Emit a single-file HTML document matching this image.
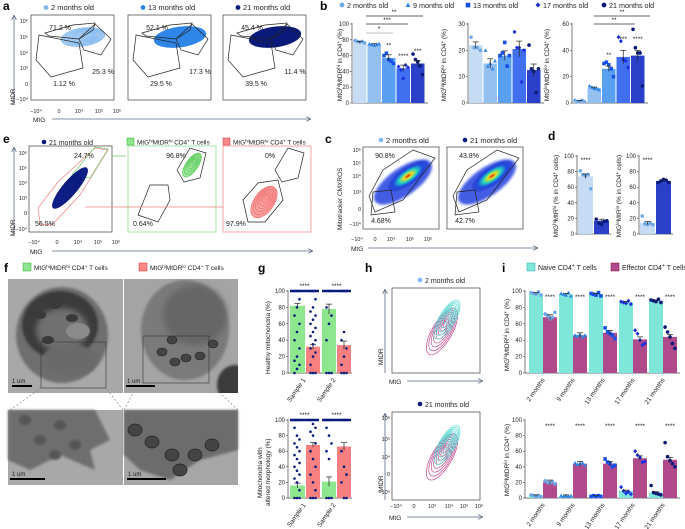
<!DOCTYPE html>
<html><head><meta charset="utf-8"><style>
html,body{margin:0;padding:0;background:#fff;}
svg{display:block;font-family:"Liberation Sans",sans-serif;}
</style></head><body>
<svg id="fig" width="685" height="529" viewBox="0 0 685 529" xmlns="http://www.w3.org/2000/svg">
<defs>
<filter id="blur1"><feGaussianBlur stdDeviation="1.2"/></filter>
<filter id="blur2"><feGaussianBlur stdDeviation="3"/></filter>
<clipPath id="clipTR"><rect x="124" y="279" width="114" height="114"/></clipPath>
<clipPath id="clipTL"><rect x="8" y="279" width="115" height="114"/></clipPath>
<radialGradient id="heat" cx="0.5" cy="0.5" r="0.5">
<stop offset="0" stop-color="#d01010"/><stop offset="0.2" stop-color="#f0e020"/><stop offset="0.45" stop-color="#20d0c0"/><stop offset="0.7" stop-color="#2050e0"/><stop offset="1" stop-color="#1020c0" stop-opacity="0.2"/></radialGradient>
<marker id="arr" markerWidth="6" markerHeight="6" refX="5" refY="3" orient="auto"><path d="M0,0 L6,3 L0,6" fill="none" stroke="#5a6a85" stroke-width="1"/></marker>
</defs>
<g id="root"></g>
</svg>
<script>
// ---------- data ----------
const bAges = ['2 months old','9 months old','13 months old','17 months old','21 months old'];
const bHiHi = [77, 74, 57, 44, 50];
const bHiLo = [22, 15, 18, 20.5, 12.5];
const bLoLo = [1.5, 11.5, 26, 35, 36];
const bHiHiDots = [[79,78,77,78,76],[75,74,73,74,75],[60,63,55,53,50],[46,42,31,48,45],[62,55,52,47,36]];
const bHiLoDots = [[25,21,21,20],[20,14,15,13,16],[18,19,23,14,18],[27,21,21,8,20],[22,13,12,4,13]];
const bLoLoDots = [[2,1,1,2,1],[13,12,11,11,10],[30,31,29,26,20],[50,47,33,32,27],[56,42,38,38,13]];
const dHiHi = [74, 17];
const dLoLo = [14, 68];
const dHiHiDots = [[81,76,75,76,58],[19,14,12,16,17]];
const dLoLoDots = [[23,13,12,14,12],[66,68,70,69,66]];
const gSamples = ['Sample 1','Sample 2'];
const gHealthyHi = [82, 78];
const gHealthyLo = [32, 34];
const gAlteredHi = [16, 21];
const gAlteredLo = [68, 66];
const iGroups = ['2 months','9 months','13 months','17 months','21 months'];
const iNaiveHiHi = [97, 96, 96, 86, 88];
const iEffHiHi = [68, 46, 49, 41, 44];
const iNaiveLoLo = [3, 3, 2, 9, 7];
const iEffLoLo = [20, 44, 44, 51, 49];
const iEffHiHiDots = [[72,70,66,68,74],[46,45,47,44,46],[55,50,48,46,42],[52,48,40,34,36],[56,50,44,36,30]];
const iEffLoLoDots = [[22,20,19,21,18],[45,43,44,45,42],[50,46,44,40,42],[60,55,52,46,47],[71,53,48,44,40]];
const iNaiveLoLoDots = [[4,3,2,3,2],[3,2,3,2,3],[2,3,2,3,2],[14,9,6,8,5],[16,7,6,5,4]];

const NS='http://www.w3.org/2000/svg';
const root=document.getElementById('root');
function el(tag,attrs,parent,text){const e=document.createElementNS(NS,tag);for(const k in attrs)e.setAttribute(k,attrs[k]);if(text!==undefined)e.textContent=text;(parent||root).appendChild(e);return e;}
function txt(x,y,s,size,parent,opt){opt=opt||{};const t=el('text',{x:x,y:y,'font-size':size,fill:opt.fill||'#222','text-anchor':opt.anchor||'start'},parent,s);if(opt.rot)t.setAttribute('transform','rotate('+opt.rot+' '+x+' '+y+')');if(opt.weight)t.setAttribute('font-weight',opt.weight);return t;}
function ylabelRich(x,y,parts,size,parent){const t=el('text',{x:x,y:y,'font-size':size,fill:'#222','text-anchor':'middle',transform:'rotate(-90 '+x+' '+y+')'},parent);parts.forEach(p=>{const ts=el('tspan',{},t,p[0]);if(p[1]){ts.setAttribute('font-size',size*0.7);ts.setAttribute('baseline-shift','super');}});return t;}

const panelLabels=[['a',3,10],['b',320,10],['e',3,143],['c',325,143],['d',548,140],['f',4,272],['g',258,272],['h',365,272],['i',502,272]];
panelLabels.forEach(p=>{const t=txt(p[1],p[2],p[0],12,root,{weight:'bold',fill:'#000'});});

// ---------- bar chart helper ----------
function barChart(o){
  const g=el('g',{},root);
  
  
  const sy=v=>o.y0-(v/o.max)*(o.y0-o.y1);
  el('line',{x1:o.ax,y1:o.y1-1,x2:o.ax,y2:o.y0,stroke:'#444','stroke-width':0.7},g);
  el('line',{x1:o.ax,y1:o.y0,x2:o.xEnd,y2:o.y0,stroke:'#444','stroke-width':0.7},g);
  o.ticks.forEach(t=>{const y=sy(t);el('line',{x1:o.ax-2,y1:y,x2:o.ax,y2:y,stroke:'#444','stroke-width':0.6},g);txt(o.ax-3,y+2,String(t),6,g,{anchor:'end'});});
  o.bars.forEach((b,i)=>{
    const r=el('rect',{x:b.x,y:sy(b.v),width:b.w,height:o.y0-sy(b.v),fill:b.c},g);
    
    
    const cx=b.x+b.w/2;
    if(b.dots){b.dots.forEach((d,j)=>{const dx=(j-(b.dots.length-1)/2)*(b.w*0.7/Math.max(1,b.dots.length-1));
      if(b.shape==='sq')el('rect',{x:cx+dx-1.8,y:sy(d)-1.8,width:3.6,height:3.6,fill:b.dc},g);
      else if(b.shape==='tri')el('path',{d:'M'+(cx+dx)+','+(sy(d)-2)+' l2,3.6 l-4,0z',fill:b.dc},g);
      else if(b.shape==='dia')el('path',{d:'M'+(cx+dx)+','+(sy(d)-2.2)+' l2,2.2 l-2,2.2 l-2,-2.2z',fill:b.dc},g);
      else el('circle',{cx:cx+dx,cy:sy(d),r:b.r||1.8,fill:b.dc},g);});}
    if(b.err!==undefined){el('line',{x1:cx,y1:sy(b.v-b.err),x2:cx,y2:sy(b.v+b.err),stroke:b.ec||'#222','stroke-width':0.7},g);el('line',{x1:cx-3,y1:sy(b.v+b.err),x2:cx+3,y2:sy(b.v+b.err),stroke:b.ec||'#222','stroke-width':0.7},g);}
    if(b.star)txt(cx,b.starY!==undefined?b.starY:sy(b.v+b.err+4)-4,b.star,6.5,g,{anchor:'middle'});
  });
  return {g:g,sy:sy};
}

// ---------- panel b ----------
const bBar=['#c6dcf4','#94c0f0','#5aa0f2','#4070f0','#2a40c8'];
const bDot=['#6fa8e8','#2f86e8','#1650e8','#1a2ee0','#0a1a7a'];
const bShape=['c','tri','sq','dia','c'];
(function(){const g=el('g',{},root);
 const xs=[342,408,468,538,604];bAges.forEach((a,i)=>{const x=xs[i];
  if(bShape[i]==='tri')el('path',{d:'M'+x+',2.5 l2.5,4.5 l-5,0z',fill:bDot[i]},g);
  else if(bShape[i]==='sq')el('rect',{x:x-2.3,y:2.8,width:4.6,height:4.6,fill:bDot[i]},g);
  else if(bShape[i]==='dia')el('path',{d:'M'+x+',2.5 l2.5,2.5 l-2.5,2.5 l-2.5,-2.5z',fill:bDot[i]},g);
  else el('circle',{cx:x,cy:5,r:2.4,fill:bDot[i]},g);
  txt(x+5,8,a,7.2,g);});})();
function bChart(name,ax,max,ticks,vals,dots,errs,stars){
  const bars=vals.map((v,i)=>({x:ax+1+i*14.5,w:13.5,v:v,c:bBar[i],dots:dots[i],dc:bDot[i],shape:bShape[i],err:errs[i],star:stars[i]}));
  return barChart({name:name,ax:ax,xEnd:ax+76,y0:103,y1:24,max:max,ticks:ticks,bars:bars});
}
bChart('b-chart-hihi',352,100,[0,20,40,60,80,100],bHiHi,bHiHiDots,[1,1,4,4,4],['','','**','****','***']);
bChart('b-chart-hilo',468,30,[0,10,20,30],bHiLo,bHiLoDots,[1.2,1.8,1.8,3,2.3],['','','','','']);
bChart('b-chart-lolo',572,60,[0,20,40,60],bLoLo,bLoLoDots,[0.4,0.6,2,5,4],['','','**','***','****']);
el('line',{x1:366,y1:33,x2:393,y2:33,stroke:'#aaa','stroke-width':0.8});txt(379,31,'*',7,root,{anchor:'middle'});
el('line',{x1:366,y1:24,x2:408,y2:24,stroke:'#333','stroke-width':0.7});txt(387,22,'***',6.5,root,{anchor:'middle'});
el('line',{x1:366,y1:16,x2:423,y2:16,stroke:'#333','stroke-width':0.7});txt(394,14,'**',6.5,root,{anchor:'middle'});
el('line',{x1:594,y1:24,x2:635,y2:24,stroke:'#333','stroke-width':0.7});txt(614,22,'**',6.5,root,{anchor:'middle'});
el('line',{x1:594,y1:16,x2:650,y2:16,stroke:'#333','stroke-width':0.7});txt(622,14,'**',6.5,root,{anchor:'middle'});
ylabelRich(342,65,[['MtG'],['hi',1],['MtDR'],['hi',1],[' in CD4'],['+',1],[' (%)']],6.5);
ylabelRich(446,65,[['MtG'],['hi',1],['MtDR'],['lo',1],[' in CD4'],['+',1],[' (%)']],6.5);
ylabelRich(549,65,[['MtG'],['lo',1],['MtDR'],['lo',1],[' in CD4'],['+',1],[' (%)']],6.5);

// ---------- flow plot helper ----------
function contour(g,cx,cy,rx,ry,rot,color,n,fill){
  for(let k=n;k>=1;k--){const f=k/n;el('ellipse',{cx:cx+(1-f)*rx*0.35,cy:cy-(1-f)*ry*0.1,rx:rx*f,ry:ry*f,transform:'rotate('+rot+' '+cx+' '+cy+')',fill:fill&&k===n?fill:'none',stroke:color,'stroke-width':0.7},g);}
}
function flowBox(name,x,y,w,h,stroke){const g=el('g',{},root);el('rect',{x:x,y:y,width:w,height:h,fill:'#fff',stroke:stroke||'#555','stroke-width':0.8},g);return g;}
// panel a
[['2 months old','#7fb6ee',71.2,25.3,1.12,31,'#a9cff4'],['13 months old','#2f86e8',52.1,17.3,29.5,128,'#2f86e8'],['21 months old','#0a1a7a',45.4,11.4,39.5,223,'#0a1a7a']].forEach((p,i)=>{
  const x=p[5],g=flowBox('a-flow-plot-'+(i+1),x,15,83,85);
  const big=i>0;
  contour(g,x+52,37,big?26:22,big?10:9,-8,p[1],8,p[6]);
  el('polygon',{points:[[x+14,33],[x+42,25],[x+64,23],[x+62,30],[x+48,39],[x+18,36]].join(' '),fill:'none',stroke:'#222','stroke-width':0.7},g);
  el('polygon',{points:[[x+48,39],[x+64,24],[x+80,39],[x+70,55],[x+53,50]].join(' '),fill:'none',stroke:'#222','stroke-width':0.7},g);
  el('polygon',{points:[[x+8,35],[x+48,43],[x+52,68],[x+20,77],[x+5,60]].join(' '),fill:'none',stroke:'#222','stroke-width':0.7},g);
  txt(x+29,30,p[2]+' %',7,g,{anchor:'middle'});txt(x+72,74,p[3]+' %',7,g,{anchor:'middle'});txt(x+33,86,p[4]+' %',7,g,{anchor:'middle'});
  txt(x+20,10,p[0],7.5,root);el('circle',{cx:x+15,cy:7.5,r:2.4,fill:p[1]});
});
['10⁶','10⁵','10⁴','10³','0','−10⁴'].forEach((t,i)=>txt(28,[23,39,55,70,86,101][i],t,5.5,root,{anchor:'end'}));
['−10⁴','0','10⁴','10⁵','10⁶'].forEach((t,i)=>txt([36,59,79,99,117][i],113,t,5.5,root,{anchor:'middle'}));
el('line',{x1:14,y1:104,x2:14,y2:16,stroke:'#5a6a85','stroke-width':0.8,'marker-end':'url(#arr)'});
txt(15,105,'MtDR',6.5,root,{rot:-90,anchor:'start'});
el('line',{x1:52,y1:119,x2:310,y2:119,stroke:'#5a6a85','stroke-width':0.8,'marker-end':'url(#arr)'});
txt(33,122,'MtG',6.5,root);

// panel e
(function(){
 const g1=flowBox('e-flow-plot-21mo',29,146,83,86);
 el('polygon',{points:'38,208 58,182 95,148 108,150 80,195 52,225 40,224',fill:'none',stroke:'#f08080','stroke-width':0.7},g1);
 el('polygon',{points:'72,175 95,147 108,149 90,178',fill:'none',stroke:'#70d070','stroke-width':0.7},g1);
 contour(g1,70,188,26,7,-50,'#0a1a7a',7,'#10208a');
 txt(84,158,'24.7%',7,g1,{anchor:'middle'});txt(35,226,'56.5%',7,g1);
 const g2=flowBox('e-flow-plot-hihi',128,146,88,86,'#90e090');
 el('polygon',{points:'177,170 190,148 206,153 200,178 184,182',fill:'none',stroke:'#222','stroke-width':0.7},g2);
 contour(g2,192,165,14,6,-55,'#60cc60',6,'#9be59b');
 el('polygon',{points:'138,215 150,185 168,185 170,200 158,222',fill:'none',stroke:'#222','stroke-width':0.7},g2);
 txt(176,158,'96.8%',7,g2,{anchor:'middle'});txt(133,226,'0.64%',7,g2);
 const g3=flowBox('e-flow-plot-hilo',223,146,88,86,'#f09090');
 el('polygon',{points:'275,170 288,148 304,153 298,178 282,182',fill:'none',stroke:'#222','stroke-width':0.7},g3);
 el('polygon',{points:'243,200 258,183 278,180 283,200 265,222 248,222',fill:'none',stroke:'#222','stroke-width':0.7},g3);
 contour(g3,264,202,18,10,-55,'#f07070',7,'#f9a0a0');
 txt(270,158,'0%',7,g3,{anchor:'middle'});txt(226,226,'97.9%',7,g3);
 el('line',{x1:112,y1:156,x2:126,y2:156,stroke:'#70d070','stroke-width':0.8});
 el('line',{x1:85,y1:207,x2:223,y2:207,stroke:'#f08080','stroke-width':0.8});
 el('circle',{cx:44,cy:142,r:2.3,fill:'#0a1a7a'});txt(49,145,'21 months old',7,root);
 el('rect',{x:127,y:138,width:7,height:7,fill:'#8ee68e',stroke:'#3a3','stroke-width':0.5});
 const t1=txt(137,144.5,'',6.4,root);t1.innerHTML='MtG<tspan font-size="4.5" baseline-shift="super">hi</tspan>MtDR<tspan font-size="4.5" baseline-shift="super">hi</tspan> CD4<tspan font-size="4.5" baseline-shift="super">+</tspan> T cells';
 el('rect',{x:223,y:138,width:7,height:7,fill:'#f88',stroke:'#c33','stroke-width':0.5});
 const t2=txt(233,144.5,'',6.4,root);t2.innerHTML='MtG<tspan font-size="4.5" baseline-shift="super">hi</tspan>MtDR<tspan font-size="4.5" baseline-shift="super">lo</tspan> CD4<tspan font-size="4.5" baseline-shift="super">+</tspan> T cells';
 ['10⁶','10⁵','10⁴','10³','0','−10⁴'].forEach((t,i)=>txt(27,[155,170,185,200,215,231][i],t,5.5,root,{anchor:'end'}));
 ['−10⁴','0','10⁴','10⁵','10⁶'].forEach((t,i)=>txt([34,57,78,98,116][i],244,t,5.5,root,{anchor:'middle'}));
 el('line',{x1:14,y1:235,x2:14,y2:148,stroke:'#5a6a85','stroke-width':0.8,'marker-end':'url(#arr)'});
 txt(15,236,'MtDR',6.5,root,{rot:-90});
 el('line',{x1:52,y1:251,x2:312,y2:251,stroke:'#5a6a85','stroke-width':0.8,'marker-end':'url(#arr)'});
 txt(30,254,'MtG',6.5,root);
})();

// panel c
(function(){
 [['2 months old','#7fb6ee',363,'90.8%','4.68%'],['21 months old','#0a1a7a',447,'43.8%','42.7%']].forEach((p,i)=>{
  const x=p[2],g=flowBox('c-flow-plot-'+(i+1),x,147,76,82);
  el('ellipse',{cx:x+40,cy:182,rx:34,ry:14,transform:'rotate(-35 '+(x+40)+' 182)',fill:'#2040e0',opacity:0.85,filter:'url(#blur1)'},g);
  el('ellipse',{cx:x+45,cy:176,rx:24,ry:9,transform:'rotate(-35 '+(x+45)+' 176)',fill:'url(#heat)'},g);
  el('polygon',{points:[[x+6,196],[x+20,170],[x+50,150],[x+72,158],[x+40,200],[x+12,212]].join(' '),fill:'none',stroke:'#222','stroke-width':0.7},g);
  el('polygon',{points:[[x+8,215],[x+10,192],[x+28,190],[x+32,212]].join(' '),fill:'none',stroke:'#222','stroke-width':0.7},g);
  txt(x+22,158,p[3],7,g,{anchor:'middle'});txt(x+18,223,p[4],7,g,{anchor:'middle'});
  el('circle',{cx:x+18,cy:140,r:2.3,fill:p[1]});txt(x+23,143,p[0],7.5,root);
 });
 ['10⁶','10⁵','10⁴','10³','0','−10⁴'].forEach((t,i)=>txt(361,[152,165,178,194,211,226][i],t,5.5,root,{anchor:'end'}));
 ['−10⁴','0','10⁴','10⁵','10⁶'].forEach((t,i)=>txt([357,375,391,410,428][i],241,t,5.5,root,{anchor:'middle'}));
 el('line',{x1:368,y1:248,x2:537,y2:248,stroke:'#5a6a85','stroke-width':0.8,'marker-end':'url(#arr)'});
 txt(351,251,'MtG',6.5,root);
 txt(342,230,'Mitotracker CMXROS',6.5,root,{rot:-90});
})();

// panel d
barChart({name:'d-chart-hihi',ax:577,xEnd:611,y0:234,y1:156,max:100,ticks:[0,20,40,60,80,100],bars:[
 {x:578,w:15,v:dHiHi[0],c:'#c6dcf4',dots:dHiHiDots[0],dc:'#6fa8e8',err:3,star:'****',starY:162},
 {x:594,w:15,v:dHiHi[1],c:'#2a40c8',dots:dHiHiDots[1],dc:'#0a1a7a',err:2}]});
barChart({name:'d-chart-lolo',ax:639,xEnd:673,y0:234,y1:156,max:100,ticks:[0,20,40,60,80,100],bars:[
 {x:640,w:15,v:dLoLo[0],c:'#c6dcf4',dots:dLoLoDots[0],dc:'#6fa8e8',err:2,star:'****',starY:162},
 {x:656,w:15,v:dLoLo[1],c:'#2a40c8',dots:dLoLoDots[1],dc:'#0a1a7a',err:1}]});
ylabelRich(558,196,[['MtG'],['hi',1],['MtR'],['hi',1],[' (% in CD4'],['+',1],[' cells)']],6.5);
ylabelRich(621,196,[['MtG'],['lo',1],['MtR'],['lo',1],[' (% in CD4'],['+',1],[' cells)']],6.5);

// panel f: EM images
(function(){
 const g=el('g',{},root);
 el('rect',{x:23,y:263,width:8,height:8,fill:'#8ee68e',stroke:'#3a3','stroke-width':0.5},g);
 const t1=txt(34,270,'',6.5,g);t1.innerHTML='MtG<tspan font-size="4.5" baseline-shift="super">hi</tspan>MtDR<tspan font-size="4.5" baseline-shift="super">hi</tspan> CD4<tspan font-size="4.5" baseline-shift="super">+</tspan> T cells';
 el('rect',{x:139,y:263,width:8,height:8,fill:'#f88',stroke:'#c33','stroke-width':0.5},g);
 const t2=txt(150,270,'',6.5,g);t2.innerHTML='MtG<tspan font-size="4.5" baseline-shift="super">hi</tspan>MtDR<tspan font-size="4.5" baseline-shift="super">lo</tspan> CD4<tspan font-size="4.5" baseline-shift="super">+</tspan> T cells';
 const tl=el('g',{'clip-path':'url(#clipTL)'},g);
 el('rect',{x:8,y:279,width:115,height:114,fill:'#a8a8a8'},tl);
 el('ellipse',{cx:62,cy:335,rx:46,ry:48,fill:'#6e6e6e',filter:'url(#blur1)'},tl);
 el('ellipse',{cx:60,cy:325,rx:38,ry:34,fill:'#3a3a3a',filter:'url(#blur1)'},tl);
 el('ellipse',{cx:62,cy:330,rx:26,ry:22,fill:'#707070',filter:'url(#blur2)'},tl);
 [[40,315],[55,305],[72,318],[48,340]].forEach(c=>el('ellipse',{cx:c[0],cy:c[1],rx:6,ry:4,fill:'#3a3a3a'},tl));
 el('ellipse',{cx:78,cy:331,rx:12,ry:8,fill:'#8a8a8a'},tl);
 el('ellipse',{cx:70,cy:360,rx:28,ry:16,fill:'#6a6a6a',filter:'url(#blur1)'},tl);
 el('rect',{x:41,y:342,width:65,height:46,fill:'none',stroke:'#333','stroke-width':0.6},tl);
 el('rect',{x:12,y:385,width:20,height:2,fill:'#000'},g);txt(12,383,'1 um',6,g);
 const tr=el('g',{'clip-path':'url(#clipTR)'},g);
 el('rect',{x:124,y:279,width:114,height:114,fill:'#a4a4a4'},tr);
 el('ellipse',{cx:185,cy:330,rx:44,ry:50,fill:'#7a7a7a',filter:'url(#blur1)'},tr);
 el('ellipse',{cx:195,cy:315,rx:32,ry:30,fill:'#666',filter:'url(#blur2)'},tr);
 el('ellipse',{cx:235,cy:385,rx:18,ry:20,fill:'#3a3a3a',filter:'url(#blur1)'},tr);
 [[162,352],[175,362],[186,358],[172,340],[200,356],[213,344]].forEach(c=>el('ellipse',{cx:c[0],cy:c[1],rx:5,ry:4,fill:'#444',stroke:'#222','stroke-width':0.6},tr));
 el('rect',{x:143,y:336,width:66,height:47,fill:'none',stroke:'#333','stroke-width':0.6},tr);
 el('rect',{x:126,y:385,width:29,height:2,fill:'#000'},g);txt(127,383,'1 um',6,g);
 el('rect',{x:8,y:410,width:115,height:75,fill:'#a8a8a8'},g);
 el('path',{d:'M8,410 L95,410 L110,440 L90,450 L95,470 L60,455 L30,470 L8,460Z',fill:'#6e6e6e',filter:'url(#blur1)'},g);
 [[25,420],[60,425],[40,440],[75,445],[55,455]].forEach(c=>el('ellipse',{cx:c[0],cy:c[1],rx:6,ry:5,fill:'#555',filter:'url(#blur1)'},g));
 el('rect',{x:10,y:478,width:35,height:2,fill:'#000'},g);txt(12,476,'1 um',6,g);
 el('rect',{x:124,y:410,width:114,height:75,fill:'#a6a6a6'},g);
 el('path',{d:'M124,410 L238,410 L238,450 L200,460 L170,480 L140,470 L124,455Z',fill:'#6c6c6c',filter:'url(#blur1)'},g);
 [[135,430],[152,442],[172,455],[195,455],[212,445],[180,470]].forEach(c=>el('ellipse',{cx:c[0],cy:c[1],rx:7,ry:6,fill:'#444',stroke:'#222','stroke-width':0.7},g));
 el('rect',{x:127,y:478,width:39,height:2,fill:'#000'},g);txt(128,476,'1 um',6,g);
 [[10,410,41,388],[123,410,106,388],[124,410,133,393],[238,410,220,393]].forEach(l=>el('line',{x1:l[0],y1:l[1],x2:l[2],y2:l[3],stroke:'#777','stroke-width':0.6,'stroke-dasharray':'2,2'},g));
})();

// panel g
function gChart(name,y0,y1,hi,lo,ylab){
 const denseHi=[[0,5,10,15,20,30,40,50,60,70,80,90,100,100,100],[0,0,0,40,60,70,80,100,100]];
 const denseLo=[[0,0,0,10,20,25,30,35,40,45,50,55,60,65,70,75,80,90,100,100,100],[0,0,0,10,20,30,40,50,100,100,100]];
 const c=barChart({name:name,ax:288,xEnd:352,y0:y0,y1:y1,max:100,ticks:[0,20,40,60,80,100],bars:[
  {x:290,w:15,v:hi[0],c:'#8ee68e',err:3},{x:306,w:14,v:lo[0],c:'#f88080',err:3},
  {x:322,w:14,v:hi[1],c:'#8ee68e',err:6},{x:337,w:14,v:lo[1],c:'#f88080',err:5}]});
 const xs=[297,313,329,344];
 const sets=ylab==='h'?[denseHi[0],denseLo[0],denseHi[1],denseLo[1]]:[denseLo[0].map(v=>100-v),denseHi[0].map(v=>100-v),denseLo[1].map(v=>100-v),denseHi[1].map(v=>100-v)];
 sets.forEach((s,i)=>s.forEach((v,j)=>el('circle',{cx:xs[i]+((j%3)-1)*2.5,cy:c.sy(v),r:1.3,fill:'#0a1a7a'},c.g)));
 [[290,319],[322,351]].forEach(r=>{el('line',{x1:r[0],y1:c.sy(100),x2:r[1],y2:c.sy(100),stroke:'#0a1a7a','stroke-width':2.5},c.g);txt((r[0]+r[1])/2,y1-3,'****',6.5,c.g,{anchor:'middle'});});
 gSamples.forEach((s,i)=>txt(306+i*30,y0+7,s,6.5,c.g,{rot:-55,anchor:'end'}));
}
gChart('g-chart-healthy',373,291,gHealthyHi,gHealthyLo,'h');
gChart('g-chart-altered',498,420,gAlteredHi,gAlteredLo,'a');
txt(270,374,'Healthy mitochondria (%)',6.5,root,{rot:-90});
txt(262,498,'Mitochondria with',6.5,root,{rot:-90});txt(270,506,'altered morphology (%)',6.5,root,{rot:-90});

// panel h
(function(){
 [['2 months old','#7fb6ee',288,373],['21 months old','#0a1a7a',412,500]].forEach((p,i)=>{
  const g=flowBox('h-flow-plot-'+(i+1),392,p[2],88,p[3]-p[2]);
  const cy=p[2]+(p[3]-p[2])*0.42;
  contour(g,442,cy+8,26,10,-60,'#c04a90',8,null);
  contour(g,447,cy-4,22,8,-60,'#50d8d0',7,null);
  el('circle',{cx:420,cy:p[2]-8,r:2.3,fill:p[1]});txt(425,p[2]-5,p[0],7,root);
  el('line',{x1:385,y1:p[3],x2:385,y2:p[2]+2,stroke:'#5a6a85','stroke-width':0.8,'marker-end':'url(#arr)'});
  txt(383,p[3]-8,'MtDR',6.5,root,{rot:-90});
  const ay=p[3]+(i?17:8);
  el('line',{x1:407,y1:ay,x2:482,y2:ay,stroke:'#5a6a85','stroke-width':0.8,'marker-end':'url(#arr)'});
  txt(389,ay+3,'MtG',6.5,root);
 });
 ['10⁶','10⁵','10⁴','0','−10⁴'].forEach((t,i)=>txt(390,[420,441,459,476,494][i],t,5.5,root,{anchor:'end'}));
 ['−10⁴','0','10³','10⁴','10⁵','10⁶'].forEach((t,i)=>txt([396,414,432,449,464,479][i],508,t,5.5,root,{anchor:'middle'}));
})();

// panel i
(function(){
 el('rect',{x:527,y:263,width:8,height:8,fill:'#7fe6da',stroke:'#2aa','stroke-width':0.5});
 const t1=txt(538,270,'',7,root);t1.innerHTML='Naive CD4<tspan font-size="5" baseline-shift="super">+</tspan> T cells';
 el('rect',{x:611,y:263,width:8,height:8,fill:'#b04a8c',stroke:'#803','stroke-width':0.5});
 const t2=txt(622,270,'',7,root);t2.innerHTML='Effector CD4<tspan font-size="5" baseline-shift="super">+</tspan> T cells';
 function iChart(name,y0,y1,naive,eff,naiveDots,effDots){
  const bars=[];
  iGroups.forEach((gname,i)=>{const x=529+i*30;
   bars.push({x:x,w:14,v:naive[i],c:'#7fe6da',dots:naiveDots?naiveDots[i]:null,dc:bDot[i],shape:bShape[i],err:1});
   bars.push({x:x+14,w:14,v:eff[i],c:'#b04a8c',dots:effDots[i],dc:bDot[i],shape:bShape[i],err:3,star:'****',starY:y1+8});});
  const c=barChart({name:name,ax:525,xEnd:680,y0:y0,y1:y1,max:100,ticks:[0,20,40,60,80,100],bars:bars});
  iGroups.forEach((gname,i)=>txt(545+i*30,y0+7,gname,6.5,c.g,{rot:-55,anchor:'end'}));
 }
 const naiveHiDots=iNaiveHiHi.map(v=>[v+1,v,v-1,v+2,v-2]);
 iChart('i-chart-hihi',373,291,iNaiveHiHi,iEffHiHi,naiveHiDots,iEffHiHiDots);
 iChart('i-chart-lolo',498,420,iNaiveLoLo,iEffLoLo,iNaiveLoLoDots,iEffLoLoDots);
 ylabelRich(509,335,[['MtG'],['hi',1],['MtDR'],['hi',1],[' in CD4'],['+',1],[' (%)']],6.5);
 ylabelRich(509,460,[['MtG'],['lo',1],['MtDR'],['lo',1],[' in CD4'],['+',1],[' (%)']],6.5);
})();
</script>
</body></html>
